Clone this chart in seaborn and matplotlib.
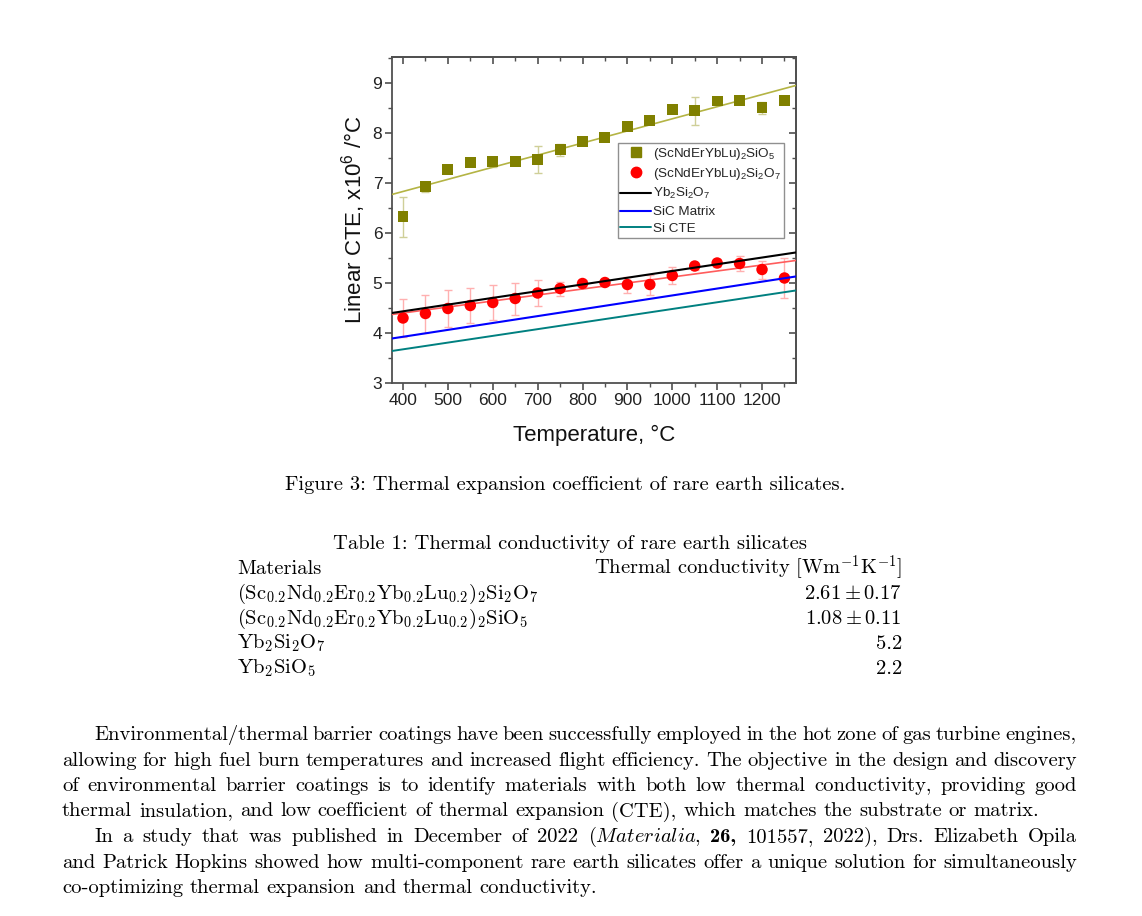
import matplotlib
matplotlib.use("Agg")
import matplotlib.pyplot as plt
from matplotlib.lines import Line2D
import numpy as np
import pandas as pd
import seaborn as sns

# ---------------- data ----------------
temps = [400, 450, 500, 550, 600, 650, 700, 750, 800, 850, 900, 950,
         1000, 1050, 1100, 1150, 1200, 1250]
sio5 = [6.33, 6.93, 7.27, 7.41, 7.43, 7.43, 7.47, 7.67, 7.83, 7.91, 8.13, 8.25,
        8.47, 8.45, 8.64, 8.65, 8.51, 8.65]
sio5_err = [0.40, 0.10, 0.06, 0.05, 0.10, 0.05, 0.27, 0.12, 0.05, 0.05, 0.05, 0.05,
            0.05, 0.28, 0.05, 0.05, 0.12, 0.05]
si2o7 = [4.30, 4.39, 4.49, 4.55, 4.61, 4.69, 4.80, 4.89, 4.99, 5.01, 4.97, 4.97,
         5.15, 5.34, 5.40, 5.39, 5.27, 5.10]
si2o7_err = [0.38, 0.38, 0.37, 0.35, 0.35, 0.32, 0.26, 0.14, 0.08, 0.05, 0.16, 0.20,
             0.17, 0.07, 0.07, 0.15, 0.18, 0.40]

line_temps = [375, 1275]
fit_sio5 = [6.77, 8.95]
fit_si2o7 = [4.37, 5.45]
yb2si2o7 = [4.40, 5.61]
sic_matrix = [3.89, 5.13]
si_cte = [3.64, 4.85]

x_ticks = [400, 500, 600, 700, 800, 900, 1000, 1100, 1200]
y_ticks = [3, 4, 5, 6, 7, 8, 9]

labels = ["(ScNdErYbLu)$_2$SiO$_5$", "(ScNdErYbLu)$_2$Si$_2$O$_7$",
          "Yb$_2$Si$_2$O$_7$", "SiC Matrix", "Si CTE"]

fig_caption = "Figure 3: Thermal expansion coefficient of rare earth silicates."
table_caption = "Table 1: Thermal conductivity of rare earth silicates"
table_header = ["Materials", r"Thermal conductivity [Wm$^{-1}$K$^{-1}$]"]
table_materials = [r"(Sc$_{0.2}$Nd$_{0.2}$Er$_{0.2}$Yb$_{0.2}$Lu$_{0.2}$)$_2$Si$_2$O$_7$",
                   r"(Sc$_{0.2}$Nd$_{0.2}$Er$_{0.2}$Yb$_{0.2}$Lu$_{0.2}$)$_2$SiO$_5$",
                   r"Yb$_2$Si$_2$O$_7$",
                   r"Yb$_2$SiO$_5$"]
table_values = [r"$2.61 \pm 0.17$", r"$1.08 \pm 0.11$", "5.2", "2.2"]

# words wrapped in ** ** are set in bold
paragraph_lines = [
    "Environmental/thermal barrier coatings have been successfully employed in the hot zone of gas turbine engines,",
    "allowing for high fuel burn temperatures and increased flight efficiency. The objective in the design and discovery",
    "of environmental barrier coatings is to identify materials with both low thermal conductivity, providing good",
    "thermal insulation, and low coefficient of thermal expansion (CTE), which matches the substrate or matrix.",
    r"In a study that was published in December of 2022 ($\mathit{Materialia}$, **26**, 101557, 2022), Drs. Elizabeth Opila",
    "and Patrick Hopkins showed how multi-component rare earth silicates offer a unique solution for simultaneously",
    "co-optimizing thermal expansion and thermal conductivity.",
]
line_indent = [True, False, False, False, True, False, False]
line_justify = [True, True, True, False, True, True, False]

# ---------------- style ----------------
sns.set_style("ticks")
plt.rcParams["font.family"] = ["Liberation Sans", "DejaVu Sans"]
plt.rcParams["mathtext.fontset"] = "custom"
plt.rcParams["mathtext.rm"] = "Liberation Sans"
plt.rcParams["mathtext.it"] = "Liberation Sans:italic"
plt.rcParams["mathtext.bf"] = "Liberation Sans:bold"

W, H = 1142, 916
fig = plt.figure(figsize=(W / 100, H / 100), dpi=100)
fig.patch.set_facecolor("white")

def fx(px):
    return px / W

def fy(py):
    return 1 - py / H

ax = fig.add_axes([fx(392), fy(383), fx(796) - fx(392), fy(57) - fy(383)])

df1 = pd.DataFrame({"T": temps, "CTE": sio5})
df2 = pd.DataFrame({"T": temps, "CTE": si2o7})

ax.errorbar(temps, sio5, yerr=sio5_err, fmt="none", ecolor="#cfcf98",
            elinewidth=1.0, capsize=3, capthick=1.0, zorder=2)
ax.errorbar(temps, si2o7, yerr=si2o7_err, fmt="none", ecolor="#ffb0b0",
            elinewidth=1.0, capsize=3, capthick=1.0, zorder=2)

sns.lineplot(x=line_temps, y=fit_sio5, color="#b4b444", linewidth=1.2, ax=ax, zorder=3)
sns.lineplot(x=line_temps, y=fit_si2o7, color="#ff5c5c", linewidth=1.2, ax=ax, zorder=3)

sns.scatterplot(data=df1, x="T", y="CTE", marker="s", color="#808000", s=62,
                edgecolor="none", linewidth=0, ax=ax, zorder=4)
sns.scatterplot(data=df2, x="T", y="CTE", marker="o", color="#ff0000", s=68,
                edgecolor="none", linewidth=0, ax=ax, zorder=4)

sns.lineplot(x=line_temps, y=yb2si2o7, color="#000000", linewidth=1.5, ax=ax, zorder=5)
sns.lineplot(x=line_temps, y=sic_matrix, color="#0000ff", linewidth=1.5, ax=ax, zorder=5)
sns.lineplot(x=line_temps, y=si_cte, color="#008080", linewidth=1.4, ax=ax, zorder=5)

ax.set_xlim(375.5, 1275.7)
ax.set_ylim(3, 9.52)
ax.set_xticks(x_ticks)
ax.set_yticks(y_ticks)
ax.set_xticks(np.arange(450, 1275, 100), minor=True)
ax.set_yticks(np.arange(3.5, 9.6, 1.0), minor=True)
ax.set_xticklabels([str(t) for t in x_ticks])
ax.set_yticklabels([str(t) for t in y_ticks])

spine_col = "#505050"
for s in ax.spines.values():
    s.set_visible(True)
    s.set_color(spine_col)
    s.set_linewidth(1.3)
ax.tick_params(which="major", direction="out", length=5, width=1.2, color=spine_col,
               labelsize=12.5, labelcolor="#222222", pad=2)
ax.tick_params(which="minor", direction="out", length=3, width=1.0, color=spine_col)

top = ax.secondary_xaxis("top")
top.set_xticks(x_ticks)
top.set_xticks(np.arange(450, 1275, 100), minor=True)
top.tick_params(which="major", direction="in", length=5, width=1.2, color=spine_col, labeltop=False)
top.tick_params(which="minor", direction="in", length=3, width=1.0, color=spine_col)
top.spines["top"].set_color(spine_col)
top.spines["top"].set_linewidth(1.3)
right = ax.secondary_yaxis("right")
right.set_yticks(y_ticks)
right.set_yticks(np.arange(3.5, 9.6, 1.0), minor=True)
right.tick_params(which="major", direction="in", length=5, width=1.2, color=spine_col, labelright=False)
right.tick_params(which="minor", direction="in", length=3, width=1.0, color=spine_col)
right.spines["right"].set_color(spine_col)
right.spines["right"].set_linewidth(1.3)

ax.set_xlabel("Temperature, °C", fontsize=16, color="#111111", labelpad=12)
ax.set_ylabel("Linear CTE, x10$^6$ /°C", fontsize=16, color="#111111", labelpad=3)

handles = [
    Line2D([], [], linestyle="none", marker="s", color="#808000", markersize=7),
    Line2D([], [], linestyle="none", marker="o", color="#ff0000", markersize=7.5),
    Line2D([], [], color="#000000", linewidth=1.5),
    Line2D([], [], color="#0000ff", linewidth=1.5),
    Line2D([], [], color="#008080", linewidth=1.4),
]
leg = ax.legend(handles, labels, loc="upper right", bbox_to_anchor=(0.97, 0.736),
                borderaxespad=0, fontsize=9.7, frameon=True, fancybox=False,
                framealpha=1, edgecolor="#909090", handlelength=2.3,
                handletextpad=0.15, borderpad=0.2, labelspacing=0.32)
leg.get_frame().set_linewidth(1.0)

# ---------------- document text ----------------
FS = 14.8
doc_kw = dict(fontfamily="cmr10", math_fontfamily="cm", fontsize=FS, color="black")

fig.text(fx(565), fy(490), fig_caption, ha="center", va="baseline", **doc_kw)
fig.text(fx(570), fy(549), table_caption, ha="center", va="baseline", **doc_kw)

left_col, right_col = 237, 902
fig.text(fx(left_col), fy(574), table_header[0], ha="left", va="baseline", **doc_kw)
fig.text(fx(right_col), fy(574), table_header[1], ha="right", va="baseline", **doc_kw)
for i, (m, v) in enumerate(zip(table_materials, table_values)):
    yb = 599 + 25 * i
    fig.text(fx(left_col), fy(yb), m, ha="left", va="baseline", **doc_kw)
    fig.text(fx(right_col), fy(yb), v, ha="right", va="baseline", **doc_kw)

renderer = fig.canvas.get_renderer()
probe_a = fig.text(0, 0, "a a", **doc_kw)
probe_b = fig.text(0, 0, "aa", **doc_kw)
space_w = (probe_a.get_window_extent(renderer).width
           - probe_b.get_window_extent(renderer).width)
probe_a.remove()
probe_b.remove()


def make_word(w):
    kw = dict(doc_kw)
    if w.startswith("**"):
        core, rest = w[2:].split("**", 1)
        kw["fontfamily"] = "cmb10"
        w = core + rest
    return fig.text(0, 0, w, ha="left", va="baseline", **kw)


x_left, x_right, indent = 62, 1077, 32
for i, line in enumerate(paragraph_lines):
    yb = 740 + 25.5 * i
    x0 = x_left + (indent if line_indent[i] else 0)
    words = line.split(" ")
    objs = [make_word(w) for w in words]
    widths = [o.get_window_extent(renderer).width for o in objs]
    if line_justify[i] and len(words) > 1:
        gap = (x_right - x0 - sum(widths)) / (len(words) - 1)
    else:
        gap = space_w
    x = x0
    for o, w in zip(objs, widths):
        o.set_position((fx(x), fy(yb)))
        x += w + gap

fig.savefig("out.png", dpi=100, facecolor="white")
